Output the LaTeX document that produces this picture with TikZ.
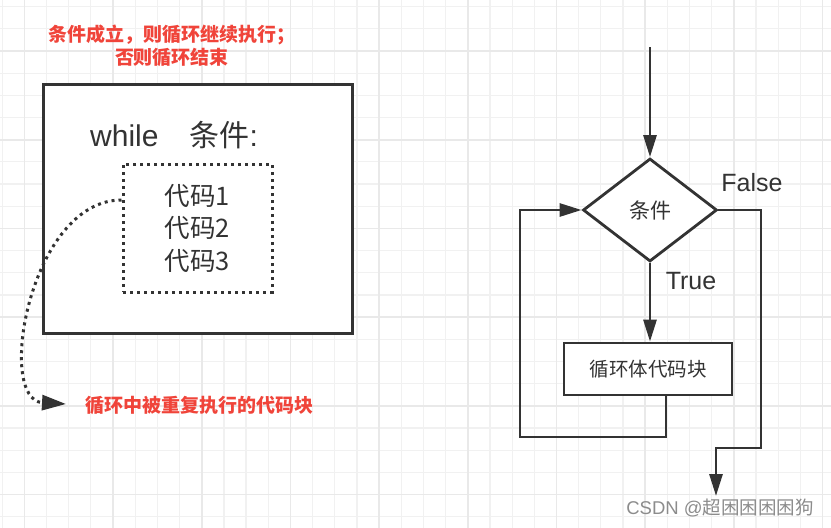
\documentclass[tikz,border=0pt]{standalone}
\usepackage{fontspec}
\setmainfont{Liberation Sans}
\newfontfamily\cjk{Noto Sans CJK SC}
\usetikzlibrary{arrows.meta,shapes.geometric}
\definecolor{ink}{HTML}{333333}
\definecolor{note}{RGB}{240,68,58}
\definecolor{gridminor}{HTML}{F1F1F1}
\definecolor{gridmajor}{HTML}{E9E9E9}
\definecolor{mark}{RGB}{140,140,140}

\begin{document}
\begin{tikzpicture}[x=1pt, y=-1pt,
  flow/.style={draw=ink, line width=2.8pt},
  tip/.style={-{Triangle[length=22pt,width=13pt]}},
  dots/.style={draw=ink, line width=3pt, dash pattern=on 3pt off 4pt},
  rednote/.style={text=note, font=\cjk\bfseries\fontsize{19}{23}\selectfont}]
% paper with grid
\fill[white] (0,0) rectangle (831,528);
\useasboundingbox (0,0) rectangle (831,528);
\foreach \i in {0,...,37} \draw[gridminor, line width=1.2pt] ({2.2+22.17*\i},0) -- ({2.2+22.17*\i},528);
\foreach \j in {0,...,23} \draw[gridminor, line width=1.2pt] (0,{6.7+22.17*\j}) -- (831,{6.7+22.17*\j});
\foreach \i in {1,5,...,37} \draw[gridmajor, line width=1.6pt] ({2.2+22.17*\i},0) -- ({2.2+22.17*\i},528);
\foreach \j in {2,6,...,22} \draw[gridmajor, line width=1.6pt] (0,{6.7+22.17*\j}) -- (831,{6.7+22.17*\j});

% left: while block
\node[rednote, align=center] (rule) at (172,46) {条件成立，则循环继续执行；\\否则循环结束};
\node[draw=ink, line width=3pt, fill=white, minimum width=309pt, minimum height=249pt, inner sep=0pt] (loopbox) at (197.5,208.5) {};
\node[anchor=west, text=ink, font=\fontsize{30}{34}\selectfont, inner sep=0pt] (head) at (90,135) {while\hspace{31pt}{\cjk 条件}:};
\node[dots, minimum width=149pt, minimum height=128pt, align=center, text=ink, font=\cjk\fontsize{25.5}{32.5}\selectfont] (code) at (197.5,228) {代码1\\代码2\\代码3};
\node[anchor=west, rednote] (repeat) at (82,405) {循环中被重复执行的代码块};
\coordinate (hook) at (66,404);
\draw[dots, -{Triangle[length=24pt,width=15pt]}] ([yshift=28pt]code.west) .. controls (30,200) and (-5,400) .. (hook);

% right: flow chart
\coordinate (entry) at (650,47);
\node[diamond, draw=ink, line width=2.8pt, fill=white, minimum width=134pt, minimum height=103pt, inner sep=0pt, text=ink, font=\cjk\fontsize{21}{24}\selectfont] (cond) at (650,210) {条件};
\node[draw=ink, line width=2.8pt, fill=white, minimum width=168pt, minimum height=52pt, text=ink, font=\cjk\fontsize{19.5}{22}\selectfont] (body) at (648,369) {循环体代码块};
\node[text=ink, font=\fontsize{25}{28}\selectfont] (yes) at (691,281) {True};
\node[text=ink, font=\fontsize{25}{28}\selectfont] (no) at (752,183) {False};
\coordinate (turn) at (761,448);
\coordinate (exit) at (716,496);
\coordinate (back) at (520,437);
\draw[flow, tip] (entry) -- (cond.north);
\draw[flow, tip] (cond.south) -- (cond.south |- body.north);
\draw[flow, tip] (cond.east) -| (turn) -| (exit);
\draw[flow, tip] ([xshift=18pt]body.south) |- (back) |- (cond.west);
\node[text=mark, font=\fontsize{18.5}{21}\selectfont] (credit) at (720,508) {CSDN @{\cjk 超困困困困狗}};
\end{tikzpicture}
\end{document}
